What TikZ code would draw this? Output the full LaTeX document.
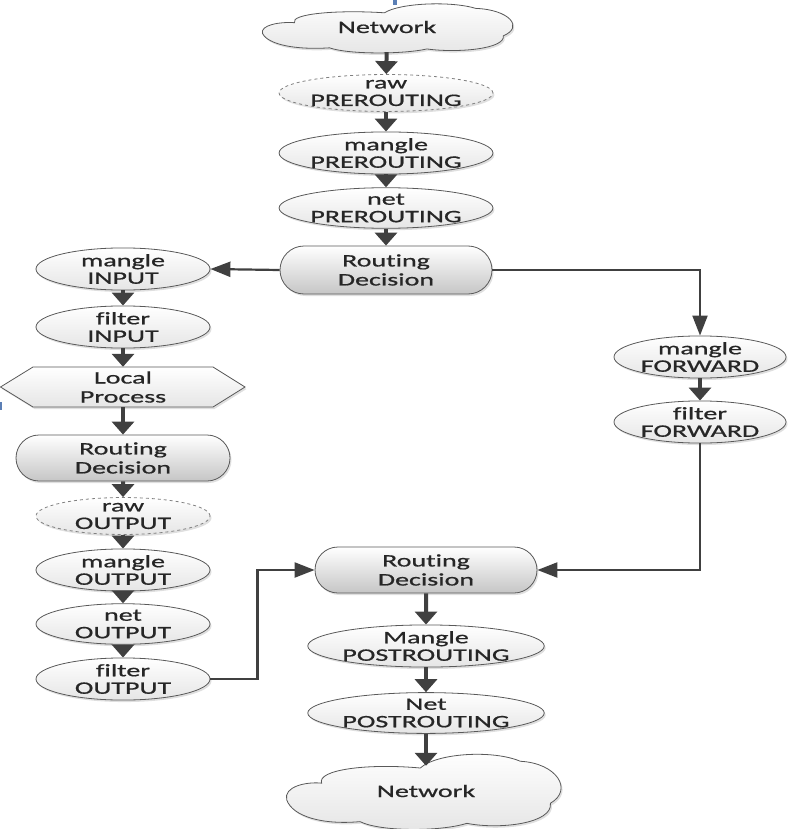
\documentclass[tikz,border=0pt]{standalone}
\usepackage{fontspec}
\setmainfont[FakeStretch=1.6,FakeBold=0.8,Ligatures=NoCommon]{Carlito}
\usetikzlibrary{shapes.geometric,shapes.misc,arrows.meta,shadows}
\definecolor{arrowgray}{HTML}{404040}
\definecolor{textgray}{HTML}{262626}
\definecolor{markblue}{HTML}{5B7FB5}

\tikzset{
  shapefill/.style={draw=gray!70!black, line width=0.8pt, top color=white, bottom color=gray!20,
    drop shadow={shadow xshift=1.5pt, shadow yshift=-2pt, opacity=0.25}},
  cloudpic/.pic={
    \path[shapefill] (-0.995,0.25) .. controls (-1.02,-0.107) and (-0.85,-0.24) .. (-0.74,-0.196)
      .. controls (-0.776,-0.55) and (-0.41,-0.73) .. (-0.02,-0.6)
      .. controls (0.10,-1.0) and (0.51,-1.09) .. (0.71,-0.78)
      .. controls (0.976,-0.73) and (1.10,-0.02) .. (0.93,0.34)
      .. controls (0.95,0.875) and (0.56,1.05) .. (0.32,0.875)
      .. controls (0.124,1.10) and (-0.31,1.10) .. (-0.46,0.83)
      .. controls (-0.73,0.92) and (-0.95,0.70) .. (-0.995,0.25) -- cycle;
  }
}

\begin{document}
\begin{tikzpicture}[x=1pt,y=-1pt,
  box/.style={shapefill, text=textgray, align=center, inner sep=0pt, font=\fontsize{17.5}{17.5}\selectfont},
  tablenode/.style={box, ellipse},
  rawnode/.style={tablenode, dashed, draw=gray},
  decision/.style={box, rounded rectangle, bottom color=gray!45, font=\fontsize{17.5}{19}\selectfont},
  plaintext/.style={text=textgray, align=center, inner sep=0pt, font=\fontsize{17.5}{19}\selectfont},
  flow/.style={arrowgray, line width=4pt, -{Triangle[length=13pt,width=22pt]}},
  jump/.style={arrowgray, line width=2.2pt, -{Triangle[length=20pt,width=15pt]}}]
\useasboundingbox (0,0) rectangle (787,829);

\pic[xscale=125, yscale=24.5] at (387,27.5) {cloudpic};
\node[plaintext, minimum width=200, minimum height=50] (1) at (387,27) {Network};
\node[rawnode, minimum width=190, minimum height=36] (2) at (386,93) {raw\\PREROUTING};
\node[tablenode, minimum width=188, minimum height=36] (3) at (386,153) {mangle\\PREROUTING};
\node[tablenode, minimum width=184, minimum height=33] (4) at (386,208) {net\\PREROUTING};
\node[decision, minimum width=212, minimum height=48] (5) at (386,270) {Routing\\Decision};

\node[tablenode, minimum width=174, minimum height=34] (6) at (123,269) {mangle\\INPUT};
\node[tablenode, minimum width=174, minimum height=36] (7) at (123,327) {filter\\INPUT};
% hexagon behind the local process text
\path[shapefill] (0.5,387) -- (33,367) -- (213,367) -- (245,387) -- (213,407) -- (33,407) -- cycle;
\node[plaintext, minimum width=245, minimum height=40] (8) at (123,387) {Local\\Process};
\node[decision, minimum width=214, minimum height=46] (9) at (123,458) {Routing\\Decision};
\node[rawnode, minimum width=174, minimum height=34] (10) at (123,516) {raw\\OUTPUT};
\node[tablenode, minimum width=174, minimum height=34] (11) at (123,570) {mangle\\OUTPUT};
\node[tablenode, minimum width=174, minimum height=34] (12) at (123,624) {net\\OUTPUT};
\node[tablenode, minimum width=174, minimum height=36] (13) at (123,679) {filter\\OUTPUT};

\node[tablenode, minimum width=172, minimum height=36] (14) at (700,357) {mangle\\FORWARD};
\node[tablenode, minimum width=172, minimum height=38] (15) at (700,422) {filter\\FORWARD};

\node[decision, minimum width=222, minimum height=46] (16) at (426,570) {Routing\\Decision};
\node[tablenode, minimum width=200, minimum height=42] (17) at (426,646) {Mangle\\POSTROUTING};
\node[tablenode, minimum width=200, minimum height=39] (18) at (426,713) {Net\\POSTROUTING};
\pic[xscale=137, yscale=37.5] at (423,790.5) {cloudpic};
\node[plaintext, minimum width=200, minimum height=50] (19) at (426,791) {Network};

\foreach \a/\b in {1/2,2/3,3/4,4/5,6/7,7/8,8/9,9/10,10/11,11/12,12/13,14/15,16/17,17/18,18/19}
  \draw[flow] (\a) -- (\b);

\draw[jump] (5.west) -- (6.east);
\draw[jump] (5.east) -| (14.north);
\draw[jump] (15.south) |- (16.east);
\draw[jump] (13.east) -- ++(47,0) |- (16.west);

% stray marks
\fill[markblue] (393,0) rectangle (397,5);
\fill[markblue] (0,402) rectangle (2,410);
\end{tikzpicture}
\end{document}
